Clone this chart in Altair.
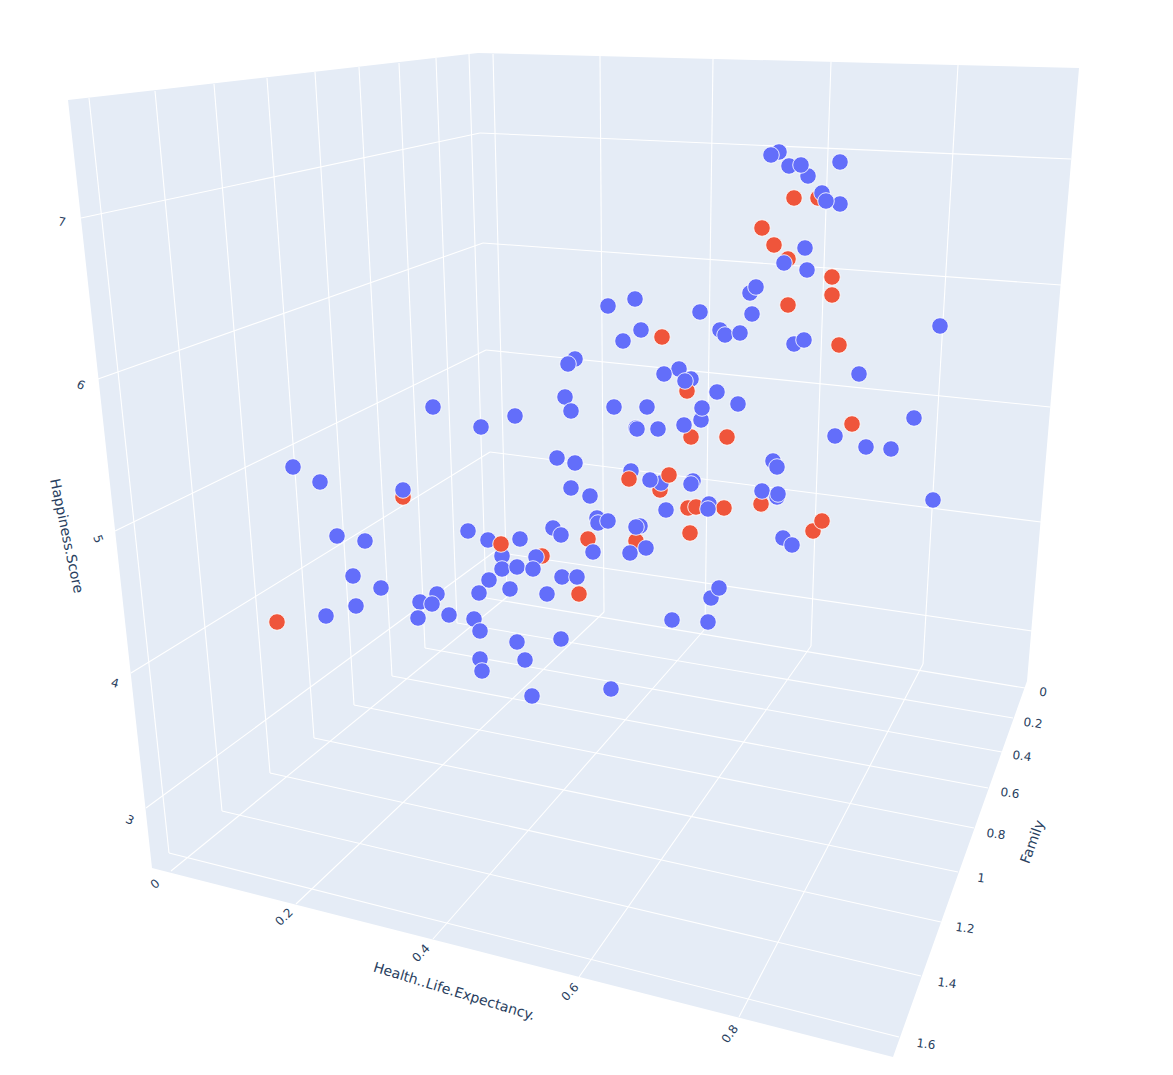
import altair as alt
import pandas as pd

# Points (projected horizontal / vertical position), in drawing order
point_h = [
 779,771,789,808,801,840,794,818,822,840,826,762,774,788,784,805,807,832,832,788,
 750,756,752,794,804,839,940,608,635,641,623,662,700,720,725,740,679,664,691,687,
 685,717,738,614,647,701,702,636,637,658,691,684,727,631,629,660,661,650,669,693,
 691,666,688,696,709,724,708,690,773,777,761,762,777,778,813,822,783,792,597,598,
 608,640,636,636,630,646,711,719,672,708,557,575,571,590,553,561,588,593,468,488,
 502,501,520,502,517,542,536,533,489,510,479,562,577,547,579,293,320,403,403,337,
 365,353,381,277,326,356,420,437,432,418,449,474,480,517,561,480,482,525,532,611,
 433,481,515,565,575,568,571,859,852,835,866,891,914,933]
point_v = [
 152,155,166,176,165,162,198,198,193,204,201,228,245,259,263,248,270,277,295,305,
 293,287,314,344,340,345,326,306,299,330,341,337,312,330,335,333,369,374,379,391,
 381,392,404,407,407,420,408,428,429,429,437,425,437,471,479,490,483,480,475,481,
 484,510,508,507,504,508,509,533,461,467,504,491,497,494,531,521,538,545,518,523,
 521,526,541,527,553,548,598,588,620,622,458,463,488,496,528,535,539,552,531,540,
 556,544,539,569,567,556,557,569,580,589,593,577,577,594,594,467,482,497,490,536,
 541,576,588,622,616,606,602,594,604,618,615,619,631,642,639,659,671,660,696,689,
 407,427,416,397,359,364,411,374,424,436,447,449,418,500]
red_points = [(794,198),(818,198),(762,228),(774,245),(788,259),(832,277),(832,295),(788,305),
              (839,345),(662,337),(687,391),(691,437),(727,437),(629,479),(660,490),(669,475),
              (688,508),(696,507),(724,508),(690,533),(761,504),(813,531),(822,521),(636,541),
              (588,539),(501,544),(542,556),(579,594),(403,497),(277,622),(852,424)]

# Pane outline
pane_x = [68,152,478,893,1027,1079]
pane_top = [100,90.4,53,63.4,66.7,68]
pane_bottom = [100,868,951,1057,681,68]

# Grid segments
family_wall = [(469,54,486,598),(436,58,457,623),(399,63,425,648),(359,67,392,676),(315,72,354,705),
               (267,78,314,738),(214,84,270,773),(155,91,222,811),(89,98,169,853)]
family_floor = [(486,598,1025,688),(457,623,1013,718),(425,648,1002,752),(392,676,988,788),(354,705,974,828),
                (314,738,958,872),(270,773,941,922),(222,811,921,976),(169,853,899,1037)]
health_wall = [(493,54,507,597),(600,56,604,612),(713,59,705,629),(831,62,811,646),(958,65,923,664)]
health_floor = [(507,597,171,871),(604,612,296,904),(705,629,433,939),(811,646,579,977),(923,664,739,1017)]
score_left = [(146,808,494,552),(131,673,490,452),(115,531,486,350),(98,379,483,243),(81,218,480,133)]
score_right = [(494,552,1032,631),(490,452,1041,522),(486,350,1050,407),(483,243,1061,285),(480,133,1071,159)]
segments = family_wall + family_floor + health_wall + health_floor + score_left + score_right

# Tick labels
tick_text = ["0","0.2","0.4","0.6","0.8","1","1.2","1.4","1.6",
             "0","0.2","0.4","0.6","0.8",
             "3","4","5","6","7"]
tick_h = [1043,1033,1022,1010,996,981,965,947,926, 155,284,421,570,730, 130,115,98,81,62]
tick_v = [692,723,756,793,834,878,928,983,1044, 884,917,953,992,1034, 820,683,539,385,222]
tick_rot = [8,8,8,8,8,8,8,8,8, 320,316,314,313,306, 25,15,70,25,10]

title_text = ["Health..Life.Expectancy.","Family","Happiness.Score"]
title_h = [454,1033,66]
title_v = [992,842,536]
title_rot = [17,290,78]

FONT = "DejaVu Sans"
INK = "#2a3f5f"

x_s = alt.Scale(domain=[8,1165], nice=False, zero=False)
y_s = alt.Scale(domain=[1067,8], nice=False, zero=False)
X = lambda f: alt.X(f, type="quantitative", scale=x_s, axis=None)
Y = lambda f: alt.Y(f, type="quantitative", scale=y_s, axis=None)

pane = alt.Chart(pd.DataFrame({"h":pane_x,"t":pane_top,"b":pane_bottom})).mark_area(
    color="#E5ECF6", opacity=1, interpolate="linear"
).encode(x=X("h"), y=Y("t"), y2="b")

seg_df = pd.DataFrame(segments, columns=["a","b","c","d"])
grid = alt.Chart(seg_df).mark_rule(color="white", strokeWidth=1.1).encode(
    x=X("a"), y=Y("b"), x2="c", y2="d")

groups = ["red" if p in red_points else "blue" for p in zip(point_h, point_v)]
pts_df = pd.DataFrame({"h":point_h,"v":point_v,"g":groups})
points = alt.Chart(pts_df).mark_point(filled=True, size=275, opacity=1, stroke="white", strokeWidth=1, strokeOpacity=0.85).encode(
    x=X("h"), y=Y("v"),
    fill=alt.Fill("g:N", scale=alt.Scale(domain=["blue","red"], range=["#636efa","#EF553B"]), legend=None),
)

ticks = alt.Chart(pd.DataFrame({"h":tick_h,"v":tick_v,"t":tick_text,"r":tick_rot})).mark_text(
    font=FONT, fontSize=12, color=INK, align="center", baseline="middle"
).encode(x=X("h"), y=Y("v"), text="t:N", angle=alt.Angle("r:Q", scale=None))

titles = alt.Chart(pd.DataFrame({"h":title_h,"v":title_v,"t":title_text,"r":title_rot})).mark_text(
    font=FONT, fontSize=14, color=INK, align="center", baseline="middle"
).encode(x=X("h"), y=Y("v"), text="t:N", angle=alt.Angle("r:Q", scale=None))

chart = alt.layer(pane, grid, points, ticks, titles).properties(
    width=1157, height=1059, padding=0, autosize=alt.AutoSizeParams(type="none"), background="white"
).configure_view(stroke=None)

chart.save("out.html", embed_options={"renderer": "svg", "actions": False})
